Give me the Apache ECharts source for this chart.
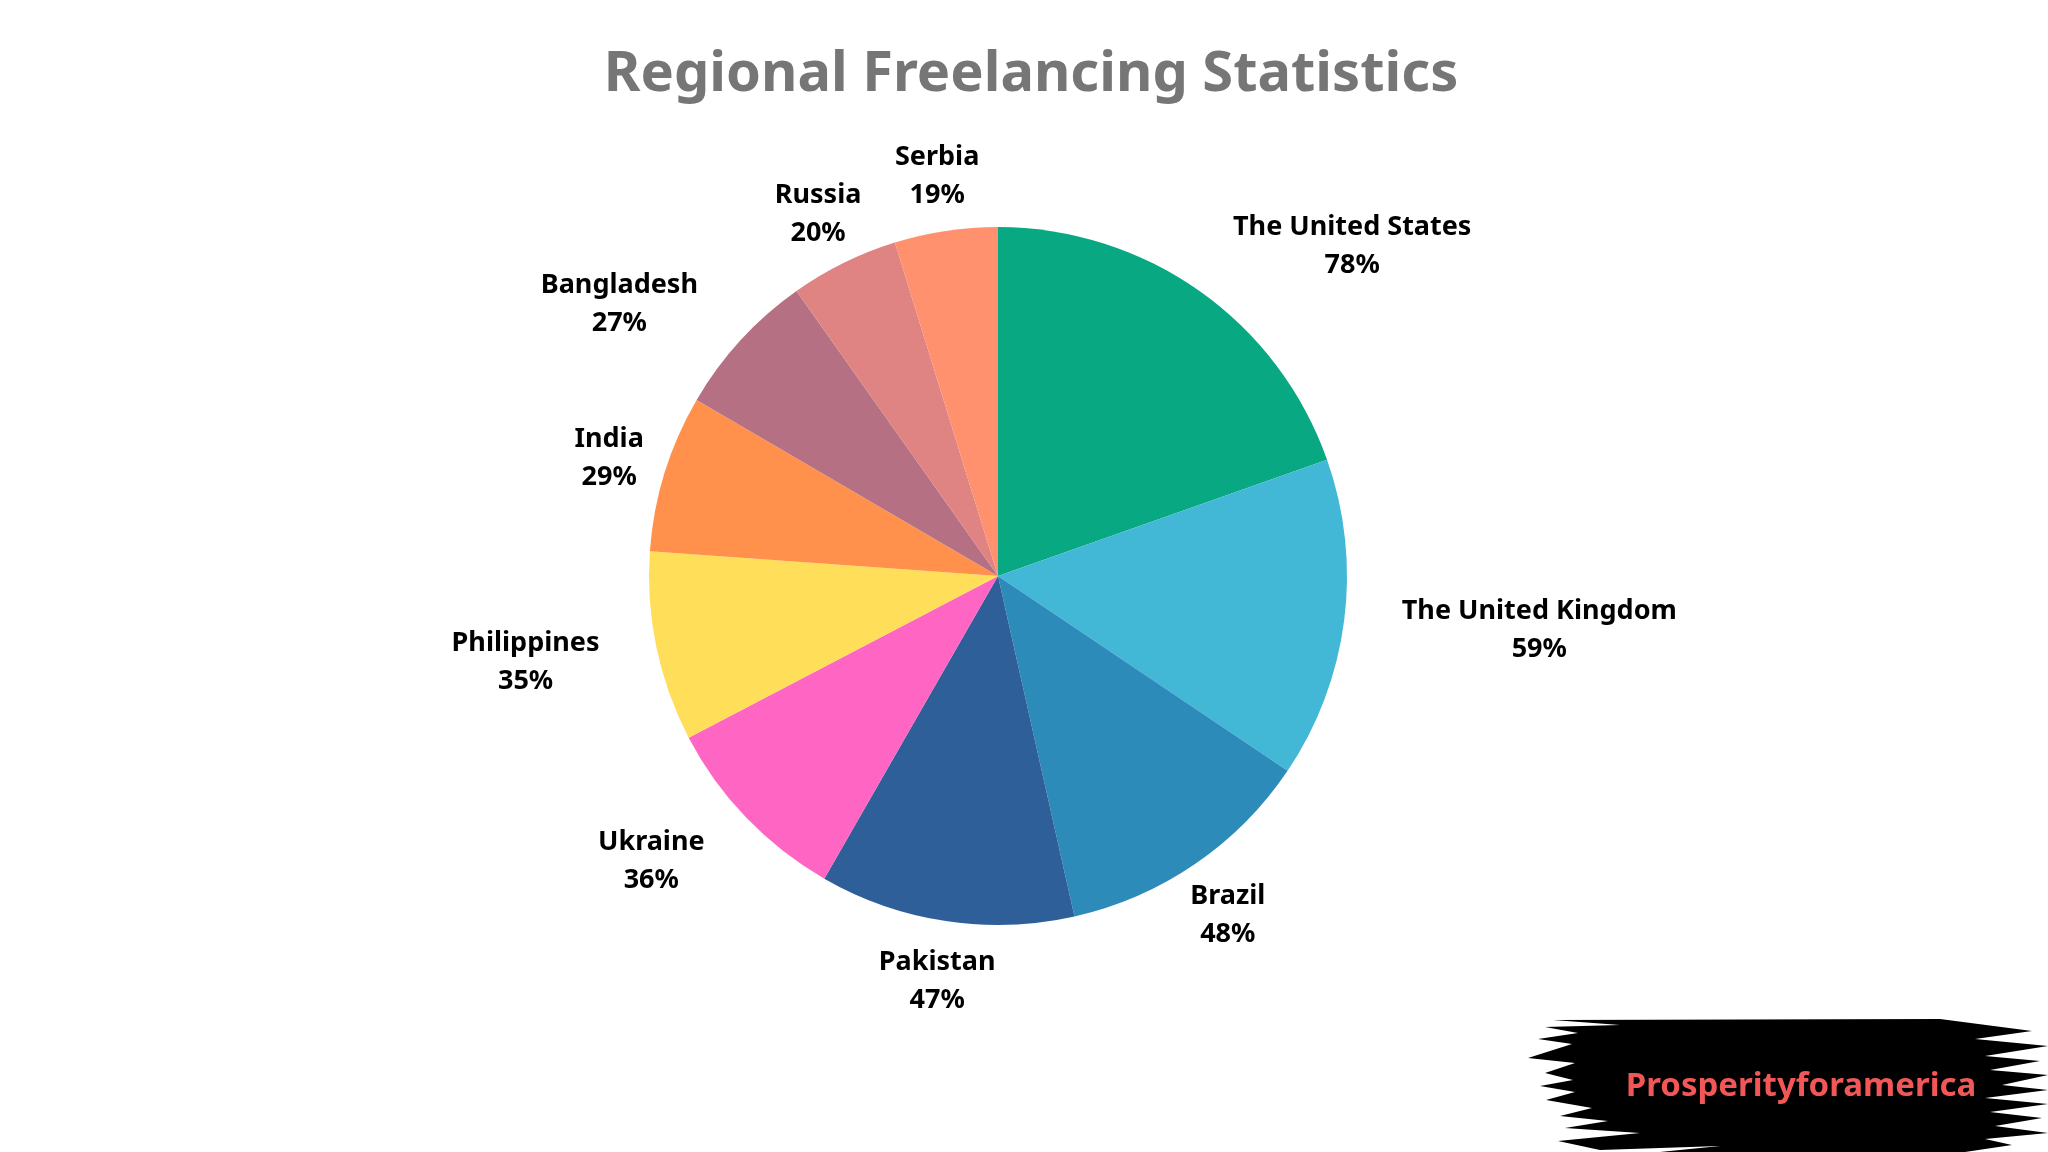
<!DOCTYPE html>
<html>
<head>
<meta charset="utf-8">
<script src="https://cdn.jsdelivr.net/npm/echarts@6/dist/echarts.min.js"></script>
<style>
html,body{margin:0;padding:0;background:#fff;}
#chart{width:2048px;height:1152px;}
</style>
</head>
<body>
<div id="chart"></div>
<script>
var countries = ['The United States','The United Kingdom','Brazil','Pakistan','Ukraine','Philippines','India','Bangladesh','Russia','Serbia'];
var shares = [78,59,48,47,36,35,29,27,20,19];
var sliceColors = ['#07A882','#42B7D6','#2D8BBA','#2F5F98','#FF66C4','#FFDE59','#FF914D','#B57183','#E08383','#FF916F'];

var R = 349;
var chart = echarts.init(document.getElementById('chart'));
var brush = [
 [1553,1020],[1620,1025],[1545,1027],[1578,1033],[1538,1039],[1572,1044],[1528,1058],[1575,1063],
 [1545,1073],[1573,1080],[1540,1086],[1575,1092],[1546,1100],[1592,1108],[1560,1116],[1608,1121],
 [1565,1128],[1640,1133],[1558,1141],[1600,1150],[1720,1146],[1660,1152],[1965,1152],[2012,1145],
 [1985,1139],[2048,1133],[1995,1126],[2042,1118],[1990,1112],[2048,1104],[1985,1098],[2048,1090],
 [2002,1085],[2048,1075],[1990,1070],[2040,1061],[1985,1056],[2048,1046],[1975,1039],[2032,1031],[1940,1019]
];
chart.setOption({
  backgroundColor:'#ffffff',
  animation:false,
  title:{
    text:'Regional Freelancing Statistics',
    left:1026, top:42, textAlign:'center',
    textStyle:{fontFamily:'Noto Sans', fontWeight:'bold', fontSize:56, color:'#767676'}
  },
  graphic:[
    {type:'polygon', shape:{points:brush}, style:{fill:'#000'}, z:10},
    {type:'text', x:1801, y:1087, z:11, style:{text:'Prosperityforamerica', fill:'#F25757', font:'bold 33px "Noto Sans"', textAlign:'center', textVerticalAlign:'middle'}}
  ],
  series:[{
    type:'pie',
    center:['48.73%','50%'],
    radius:R,
    startAngle:90,
    clockwise:true,
    avoidLabelOverlap:false,
    itemStyle:{borderWidth:0},
    label:{
      show:true, position:'outside',
      formatter:'{b}\n{c}%',
      fontFamily:'Noto Sans', fontWeight:'bold', fontSize:27, lineHeight:38, color:'#000'
    },
    labelLine:{show:true, length:58, length2:0, lineStyle:{opacity:0, width:0}},
    labelLayout:function(p){
      var pts=p.labelLinePoints;
      if(!pts) return {};
      var x1=pts[0][0], y1=pts[0][1], x2=pts[1][0], y2=pts[1][1];
      var len=Math.hypot(x2-x1,y2-y1)||1;
      var ux=(x2-x1)/len, uy=(y2-y1)/len;
      var cx=x1-ux*R, cy=y1-uy*R;
      var hw=p.labelRect.width/2, hh=p.labelRect.height/2;
      var nx=Math.max(x2-hw,Math.min(cx,x2+hw)), ny=Math.max(y2-hh,Math.min(cy,y2+hh));
      var overlap=Math.hypot(nx-cx,ny-cy)<R;
      var shift=overlap?(ux>0?hw:-hw):0;
      return {x:x2+shift, y:y2+3, align:'center', verticalAlign:'middle'};
    },
    data:countries.map(function(n,i){return {name:n, value:shares[i], itemStyle:{color:sliceColors[i]}};})
  }]
});
</script>
</body>
</html>
